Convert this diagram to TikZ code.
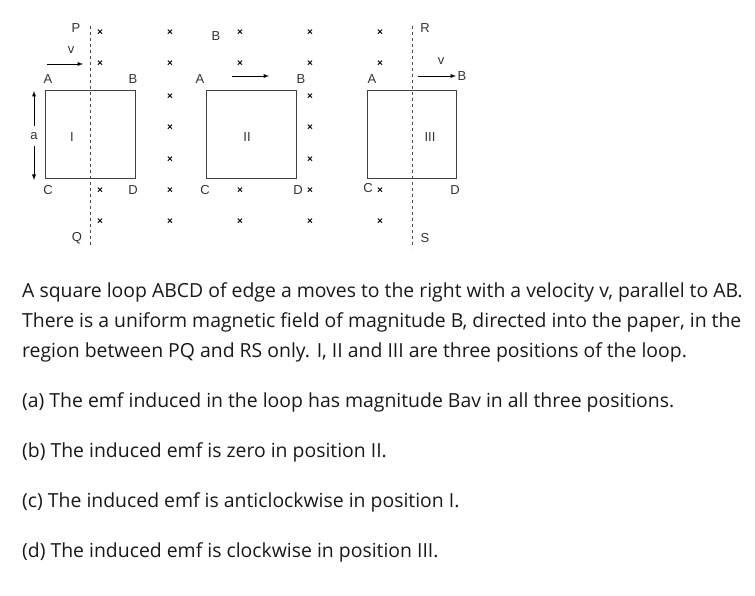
\documentclass[tikz,border=0pt]{standalone}
\usepackage{fontspec}
\setmainfont{Open Sans}
\newfontfamily\arialf{Liberation Sans}
\begin{document}
\begin{tikzpicture}[x=1pt,y=-1pt,
  lbl/.style={font=\arialf\fontsize{13}{13}\selectfont,inner sep=0pt,text=black!80},
  crs/.style={font=\arialf\bfseries\fontsize{10}{10}\selectfont,inner sep=0pt},
  loopbox/.style={draw=black!75,line width=0.9pt},
  fieldline/.style={dashed,draw=black!70,line width=0.6pt},
  varrow/.style={-latex,line width=0.9pt},
  txt/.style={font=\fontsize{19.4}{19.4}\selectfont,anchor=west,inner sep=0pt,text=black!90}]
\useasboundingbox (0,0) rectangle (755,596);
% field lines
\coordinate (P1) at (90,26); \coordinate (Q1) at (90,248);
\coordinate (R1) at (412,26); \coordinate (S1) at (412,248);
\draw[fieldline] (P1) -- (Q1);
\draw[fieldline] (R1) -- (S1);
\node[lbl] (P) at (76,28) {P}; \node[lbl] (Q) at (77,238) {Q};
\node[lbl] (R) at (425,28) {R}; \node[lbl] (S) at (425,238) {S};
% crosses
\foreach \y in {33,64,191,222}{\foreach \x in {100,170,240,310,380}{\node[crs] at (\x,\y) {×};}}
\foreach \y in {97,128,160}{\foreach \x in {170,310}{\node[crs] at (\x,\y) {×};}}
% loops
\draw[loopbox] (45,90) rectangle (135,178);
\draw[loopbox] (206,90) rectangle (296,178);
\draw[loopbox] (367,90) rectangle (456,178);
\node[lbl] at (72,137) {I}; \node[lbl] at (247,137) {II}; \node[lbl] at (430,137) {III};
% corner labels
\node[lbl] at (48,79) {A}; \node[lbl] at (133,79) {B}; \node[lbl] at (48,190) {C}; \node[lbl] at (133,190) {D};
\node[lbl] at (200,79) {A}; \node[lbl] at (301,79) {B}; \node[lbl] at (205,190) {C}; \node[lbl] at (298,190) {D};
\node[lbl] at (372,79) {A}; \node[lbl] at (462,76) {B}; \node[lbl] at (368,188) {C}; \node[lbl] at (455,190) {D};
\node[lbl] at (216,36) {B};
% velocity arrows
\coordinate (v1a) at (47,64); \coordinate (v1b) at (83,64);
\draw[varrow] (v1a) -- (v1b); \node[lbl] at (71,50) {v};
\coordinate (v2a) at (232,76); \coordinate (v2b) at (269,76);
\draw[varrow] (v2a) -- (v2b);
\coordinate (v3a) at (418,76); \coordinate (v3b) at (456,76);
\draw[varrow] (v3a) -- (v3b); \node[lbl] at (441,61) {v};
% a arrows
\node[lbl] (alab) at (34,136) {a};
\draw[varrow] (alab.north) ++(0,-6) -- (34,91);
\draw[varrow] (alab.south) ++(0,6) -- (34,180);
% text
\node[txt] at (22,292) {A square loop ABCD of edge a moves to the right with a velocity v, parallel to AB.};
\node[txt] at (22,322) {There is a uniform magnetic field of magnitude B, directed into the paper, in the};
\node[txt] at (22,352) {region between PQ and RS only. I, II and III are three positions of the loop.};
\node[txt] at (22,402) {(a) The emf induced in the loop has magnitude Bav in all three positions.};
\node[txt] at (22,452) {(b) The induced emf is zero in position II.};
\node[txt] at (22,502) {(c) The induced emf is anticlockwise in position I.};
\node[txt] at (22,552) {(d) The induced emf is clockwise in position III.};
\end{tikzpicture}
\end{document}
